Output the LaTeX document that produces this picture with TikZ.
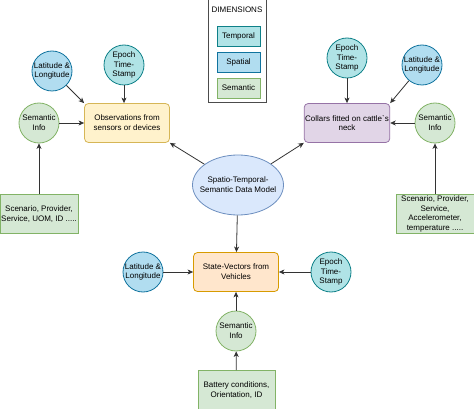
\documentclass[tikz,border=0pt]{standalone}
\usepackage{fontspec}
\setmainfont{Liberation Sans}
\usepackage{xcolor}
\usepackage{tikz}
\usetikzlibrary{shapes,arrows,arrows.meta,positioning,calc}

\definecolor{tempfill}{HTML}{B0E3E6}
\definecolor{tempdraw}{HTML}{0E8088}
\definecolor{spatfill}{HTML}{B1DDF0}
\definecolor{spatdraw}{HTML}{10739E}
\definecolor{semfill}{HTML}{D5E8D4}
\definecolor{semdraw}{HTML}{82B366}
\definecolor{obsfill}{HTML}{FFF2CC}
\definecolor{obsdraw}{HTML}{D6B656}
\definecolor{colfill}{HTML}{E1D5E7}
\definecolor{coldraw}{HTML}{9673A6}
\definecolor{vecfill}{HTML}{FFE6CC}
\definecolor{vecdraw}{HTML}{D79B00}
\definecolor{dmfill}{HTML}{DAE8FC}
\definecolor{dmdraw}{HTML}{6C8EBF}
\definecolor{linecol}{HTML}{333333}

\begin{document}
\begin{tikzpicture}[
    x=1pt, y=-1pt,
    font=\fontsize{8}{9.8}\selectfont,
    dim/.style={circle, draw, line width=0.8pt, minimum size=40pt, inner sep=0pt, align=center},
    temporal/.style={dim, fill=tempfill, draw=tempdraw},
    spatial/.style={dim, fill=spatfill, draw=spatdraw},
    semantic/.style={dim, fill=semfill, draw=semdraw},
    source/.style={rectangle, draw, rounded corners=4pt, line width=0.8pt, minimum width=85pt, minimum height=39pt, align=center, inner sep=1pt},
    info/.style={rectangle, draw=semdraw, fill=semfill, line width=0.8pt, minimum width=78pt, minimum height=39pt, align=center, inner sep=1pt},
    key/.style={rectangle, line width=0.8pt, minimum width=43pt, minimum height=20pt, align=center},
    arrow/.style={-{Stealth[length=5.5pt,width=5pt,inset=1.5pt]}, line width=0.8pt, draw=linecol}
]
\useasboundingbox (0,0) rectangle (474,409);

% Legend
\draw[line width=1pt, draw=black!70] (208,-2) rectangle (266,103);
\node (leg-title) at (237,10) {DIMENSIONS};
\node[key, fill=tempfill, draw=tempdraw] (leg-temp) at (238.5,36) {Temporal};
\node[key, fill=spatfill, draw=spatdraw] (leg-spat) at (238.5,62) {Spatial};
\node[key, fill=semfill, draw=semdraw] (leg-sem) at (238.5,88) {Semantic};

% Data model
\node[ellipse, draw=dmdraw, fill=dmfill, line width=0.8pt, minimum width=91pt, minimum height=60pt, inner sep=0pt,
      label={[align=center]center:Spatio-Temporal-\\Semantic Data Model}] (dm) at (238,185) {};

% Observations
\node[source, fill=obsfill, draw=obsdraw] (obs) at (127,123) {Observations from\\sensors or devices};
\node[spatial] (obs-ll) at (52,71) {Latitude \&\\Longitude};
\node[temporal] (obs-ep) at (124,65) {Epoch\\Time-\\Stamp};
\node[semantic] (obs-sem) at (39,123) {Semantic\\Info};
\node[info] (obs-info) at (39,214) {Scenario, Provider,\\Service, UOM, ID .....};

% Collars
\node[source, fill=colfill, draw=coldraw] (col) at (347,123) {Collars fitted on cattle\textasciigrave s\\neck};
\node[temporal] (col-ep) at (347,58) {Epoch\\Time-\\Stamp};
\node[spatial] (col-ll) at (422,65) {Latitude \&\\Longitude};
\node[semantic] (col-sem) at (435,123) {Semantic\\Info};
\node[info] (col-info) at (435,214) {Scenario, Provider,\\Service,\\Accelerometer,\\temperature .....};

% State vectors
\node[source, fill=vecfill, draw=vecdraw] (vec) at (236,272) {State-Vectors from\\Vehicles};
\node[spatial] (vec-ll) at (143,272) {Latitude \&\\Longitude};
\node[temporal] (vec-ep) at (331,272) {Epoch\\Time-\\Stamp};
\node[semantic] (vec-sem) at (236,331) {Semantic\\Info};
\node[info, minimum width=77pt] (vec-info) at (236.5,390) {Battery conditions,\\Orientation, ID};

% Connectors
\draw[arrow] (dm) -- (obs.south east);
\draw[arrow] (dm) -- (col.south west);
\draw[arrow] (dm) -- (vec);

\draw[arrow] (obs-ll) -- (obs.north west);
\draw[arrow] (obs-ep) -- (obs-ep |- obs.north);
\draw[arrow] (obs-sem) -- (obs);
\draw[arrow] (obs-info) -- (obs-sem);

\draw[arrow] (col-ep) -- (col);
\draw[arrow] (col-ll) -- (col.north east);
\draw[arrow] (col-sem) -- (col);
\draw[arrow] (col-info) -- (col-sem);

\draw[arrow] (vec-ll) -- (vec);
\draw[arrow] (vec-ep) -- (vec);
\draw[arrow] (vec-sem) -- (vec);
\draw[arrow] (vec-info) -- (vec-sem);

\end{tikzpicture}
\end{document}
